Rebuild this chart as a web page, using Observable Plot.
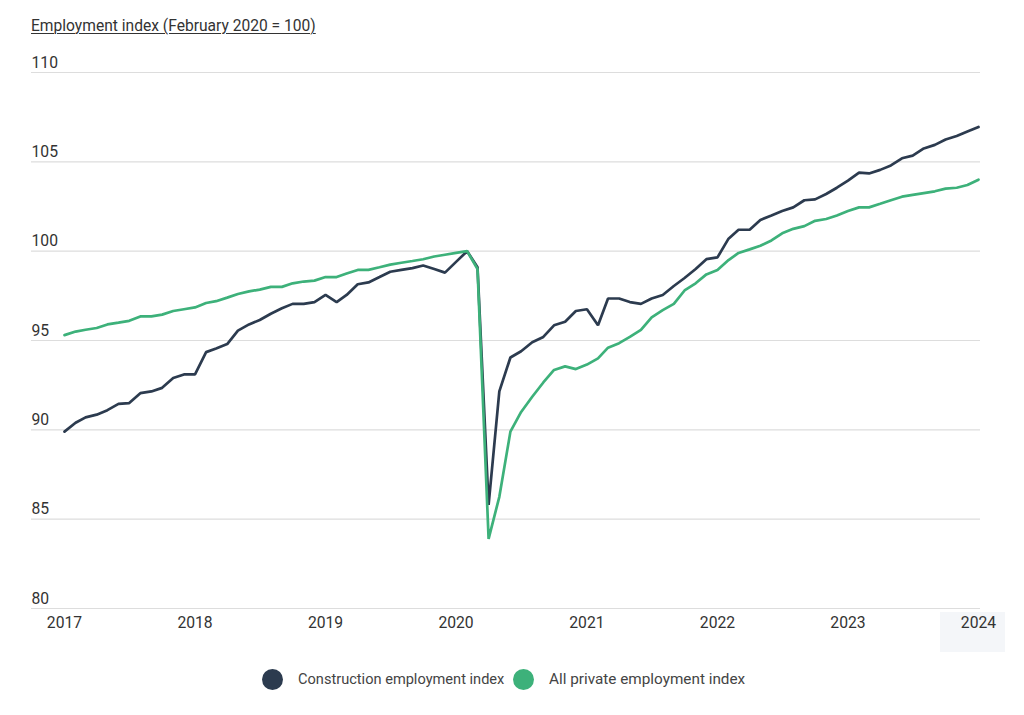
<!DOCTYPE html>
<html>
<head>
<meta charset="utf-8">
<script src="https://cdn.jsdelivr.net/npm/d3@7"></script>
<script src="https://cdn.jsdelivr.net/npm/@observablehq/plot@0.6"></script>
<style>
  html, body { margin: 0; padding: 0; background: #fff; }
  body { font-family: Roboto, "Noto Sans", sans-serif; }
  #wrap { position: relative; width: 1024px; height: 715px; overflow: hidden; }
  #title { position: absolute; left: 31px; top: 17px; font-size: 15.6px; color: #333; text-decoration: underline; text-underline-offset: 2px; text-decoration-thickness: 1px; white-space: nowrap; }
  #hl { position: absolute; left: 940px; top: 612px; width: 65px; height: 40px; background: #f4f6f9; }
  #chart { position: absolute; left: 0; top: 45px; }
  .dot { position: absolute; width: 21px; height: 21px; border-radius: 50%; top: 669px; }
  .lab { position: absolute; top: 669px; line-height: 21px; color: #444; white-space: nowrap; }
</style>
</head>
<body>
<div id="wrap">
  <div id="hl"></div>
  <div id="title">Employment index (February 2020 = 100)</div>
  <div id="chart"></div>
  <div id="legend"></div>
</div>
<script>
// Monthly series, January 2017 through January 2024 (Feb 2020 = 100)
const startYear = 2017;
const construction = [
  89.9, 90.4, 90.7, 90.85, 91.1, 91.45, 91.5, 92.05, 92.15, 92.35, 92.9, 93.1,
  93.1, 94.35, 94.55, 94.8, 95.55, 95.9, 96.15, 96.5, 96.8, 97.05, 97.05, 97.15,
  97.55, 97.15, 97.55, 98.15, 98.25, 98.55, 98.85, 98.95, 99.05, 99.2, 99.0, 98.8,
  99.4, 100, 99.1, 85.8, 92.15, 94.05, 94.4, 94.9, 95.2, 95.85, 96.05, 96.65,
  96.75, 95.85, 97.35, 97.35, 97.15, 97.05, 97.35, 97.55, 98.05, 98.5, 99.0, 99.55,
  99.65, 100.7, 101.2, 101.2, 101.75, 102.0, 102.25, 102.45, 102.85, 102.9, 103.2, 103.55,
  103.95, 104.4, 104.35, 104.55, 104.8, 105.2, 105.35, 105.75, 105.95, 106.25, 106.45, 106.7,
  106.95
];
const privateEmp = [
  95.3, 95.5, 95.6, 95.7, 95.9, 96.0, 96.1, 96.35, 96.35, 96.45, 96.65, 96.75,
  96.85, 97.1, 97.2, 97.4, 97.6, 97.75, 97.85, 98.0, 98.0, 98.2, 98.3, 98.35,
  98.55, 98.55, 98.75, 98.95, 98.95, 99.1, 99.25, 99.35, 99.45, 99.55, 99.7, 99.8,
  99.9, 100, 99.0, 83.9, 86.25, 89.9, 91.0, 91.85, 92.65, 93.35, 93.55, 93.4,
  93.65, 94.0, 94.6, 94.85, 95.2, 95.6, 96.3, 96.7, 97.05, 97.8, 98.2, 98.7,
  98.95, 99.5, 99.9, 100.1, 100.3, 100.6, 101.0, 101.25, 101.4, 101.7, 101.8, 102.0,
  102.25, 102.45, 102.45, 102.65, 102.85, 103.05, 103.15, 103.25, 103.35, 103.5, 103.55, 103.7,
  104.0
];
const seriesNames = ["Construction employment index", "All private employment index"];
const seriesColors = ["#2c3b4f", "#3db17a"];
const yTicks = [80, 85, 90, 95, 100, 105, 110];
const xTickYears = [2017, 2018, 2019, 2020, 2021, 2022, 2023, 2024];

const dateOf = i => new Date(Date.UTC(startYear + Math.floor(i / 12), i % 12, 1));
const consRows = construction.map((v, i) => ({date: dateOf(i), value: v}));
const privRows = privateEmp.map((v, i) => ({date: dateOf(i), value: v}));
const xTickDates = xTickYears.map(y => new Date(Date.UTC(y, 0, 1)));

const chart = Plot.plot({
  width: 1024,
  height: 610,
  marginTop: 27,
  marginBottom: 47,
  marginLeft: 64,
  marginRight: 46,
  style: {fontFamily: "Roboto, 'Noto Sans', sans-serif", fontSize: "15.7px", color: "#333", background: "transparent", overflow: "visible"},
  x: {type: "utc", domain: [consRows[0].date, consRows[consRows.length - 1].date]},
  y: {domain: [80, 110]},
  marks: [
    Plot.ruleY(yTicks, {stroke: "#dddddd", strokeWidth: 1.2, insetLeft: -33, insetRight: -2}),
    Plot.axisY({ticks: yTicks, tickSize: 0, tickPadding: 33, textAnchor: "start", dy: -10, label: null, fill: "#333"}),
    Plot.axisX({ticks: xTickDates, tickSize: 0, tickPadding: 8, tickFormat: d3.utcFormat("%Y"), label: null, fill: "#333"}),
    Plot.line(consRows, {x: "date", y: "value", stroke: seriesColors[0], strokeWidth: 2.7, strokeLinejoin: "miter"}),
    Plot.line(privRows, {x: "date", y: "value", stroke: seriesColors[1], strokeWidth: 2.7, strokeLinejoin: "miter"})
  ]
});
document.getElementById("chart").appendChild(chart);

// Legend
const legend = document.getElementById("legend");
const legendPos = [{dot: 262, text: 298, size: 14.6}, {dot: 513, text: 549, size: 15.3}];
seriesNames.forEach((name, i) => {
  const dot = document.createElement("div");
  dot.className = "dot";
  dot.style.left = legendPos[i].dot + "px";
  dot.style.background = seriesColors[i];
  legend.appendChild(dot);
  const lab = document.createElement("div");
  lab.className = "lab";
  lab.style.left = legendPos[i].text + "px";
  lab.style.fontSize = legendPos[i].size + "px";
  lab.textContent = name;
  legend.appendChild(lab);
});
</script>
</body>
</html>
